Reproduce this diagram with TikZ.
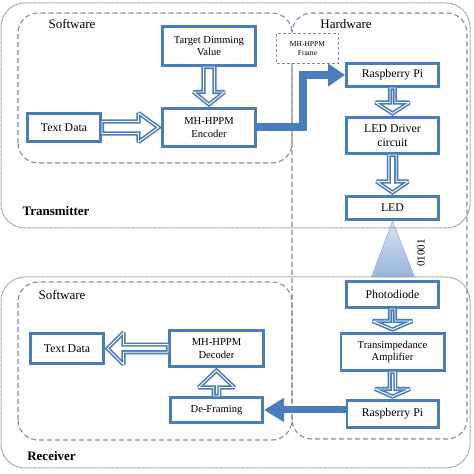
\documentclass[tikz,border=0pt]{standalone}
\usepackage{fontspec}
\setmainfont{Liberation Serif}
\usetikzlibrary{arrows.meta,positioning,calc}
\definecolor{boxblue}{HTML}{4A7EBB}
\definecolor{zonegray}{HTML}{8B88A6}
\definecolor{outergray}{HTML}{9A9A9A}
\definecolor{beamtop}{HTML}{D6E2F2}
\definecolor{beambot}{HTML}{9AB5DB}
\tikzset{
  blockbox/.style={
    rectangle, draw=boxblue, line width=2.8pt, fill=white,
    align=center, inner sep=1pt, font=\fontsize{11.8}{13.5}\selectfont
  },
  smallbox/.style={blockbox, font=\fontsize{10.6}{12.5}\selectfont},
  zone/.style={draw=zonegray, line width=1.1pt, dash pattern=on 5pt off 3pt, rounded corners=20pt},
  unitframe/.style={draw=outergray, line width=1pt, dash pattern=on 0.8pt off 0.5pt, rounded corners=24pt},
  zonelabel/.style={font=\fontsize{13}{15}\selectfont},
  sidelabel/.style={font=\fontsize{13}{15}\selectfont\bfseries},
  thickarrow/.style={draw=boxblue, line width=8pt, -{Triangle[length=17pt,width=22pt]}},
  arr shaft/.store in=\arrshaft, arr head/.store in=\arrhead, arr len/.store in=\arrlen,
  arr shaft=4pt, arr head=16pt, arr len=12pt,
  hollowarrow/.style={
    draw=boxblue, fill=white, line width=1.6pt, double=white, double distance=0.9pt,
    miter limit=2,
    to path={
      ($(\tikztotarget)!2.5pt!(\tikztostart)$) coordinate (tp)
      ($(tp)!\arrlen!(\tikztostart)$) coordinate (hb)
      ($(\tikztostart)!\arrshaft!90:(tp)$) -- ($(hb)!\arrshaft!90:(tp)$) -- ($(hb)!\arrhead!90:(tp)$) -- (tp)
      -- ($(hb)!\arrhead!-90:(tp)$) -- ($(hb)!\arrshaft!-90:(tp)$) -- ($(\tikztostart)!\arrshaft!-90:(tp)$) -- cycle
    }
  },
}
\begin{document}
\begin{tikzpicture}[x=1pt, y=1pt]
  \fill[white] (0,0) rectangle (474,474);
  \useasboundingbox (0,0) rectangle (474,474);

  \node[smallbox, minimum width=93.2pt, minimum height=39.2pt] (tdv) at (209,428) {Target Dimming\\Value};
  \node[smallbox, minimum width=93.2pt, minimum height=38.2pt, below=40pt of tdv] (enc) {MH-HPPM\\Encoder};
  \node[blockbox, minimum width=73.2pt, minimum height=28.2pt, left=59pt of enc] (tdtx) {Text Data};

  \node[blockbox, minimum width=92.2pt, minimum height=23.2pt] (rpitx) at (392.5,399) {Raspberry Pi};
  \node[blockbox, minimum width=92.2pt, minimum height=36.2pt, below=28pt of rpitx] (drv) {LED Driver\\circuit};
  \node[blockbox, minimum width=92.2pt, minimum height=23.2pt, below=40pt of drv] (led) {LED};

  \node[blockbox, minimum width=92.2pt, minimum height=26.2pt] (pd) at (392.5,179.5) {Photodiode};
  \node[smallbox, minimum width=103.2pt, minimum height=37.2pt, below=23pt of pd] (tia) {Transimpedance\\Amplifier};
  \node[blockbox, minimum width=91.2pt, minimum height=27.2pt, below=27pt of tia] (rpirx) {Raspberry Pi};

  \node[smallbox, minimum width=94.2pt, minimum height=36.2pt] (dec) at (216.5,125.5) {MH-HPPM\\Decoder};
  \node[smallbox, minimum width=92.2pt, minimum height=25.2pt, below=28pt of dec] (defr) {De-Framing};
  \node[blockbox, minimum width=73.2pt, minimum height=30.2pt, left=63pt of dec] (tdrx) {Text Data};

  \shadedraw[top color=beamtop, bottom color=beambot, draw=beambot!80!boxblue, line width=0.5pt]
    (led.south) -- ([shift={(-21pt,3pt)}]pd.north) -- ([shift={(22pt,3pt)}]pd.north) -- cycle;
  \node[rotate=90, font=\fontsize{11}{13}\selectfont] (bits) at (421,221) {01001};

  \draw[unitframe] (1,246) rectangle (470,471);
  \draw[unitframe] (1,6) rectangle (470,197);
  \draw[zone] (292,35) rectangle (467,461);
  \draw[zone] (18,311) rectangle (292,461);
  \draw[zone] (18,34) rectangle (292,192);

  \node[zonelabel] (swtx) at (72,450) {Software};
  \node[zonelabel] (hwlabel) at (346,450) {Hardware};
  \node[sidelabel] (txlabel) at (56,263) {Transmitter};
  \node[zonelabel] (swrx) at (62,179) {Software};
  \node[sidelabel] (rxlabel) at (51.5,18) {Receiver};

  \node[draw=zonegray, line width=0.9pt, dash pattern=on 3pt off 2pt, fill=white, minimum width=62pt,
    minimum height=30pt, inner sep=1pt, align=center, font=\fontsize{7.5}{8.5}\selectfont] (frame) at (307.5,425.5) {MH-HPPM\\Frame};

  \draw[hollowarrow, arr shaft=6pt, arr head=14.5pt, arr len=20pt] (tdtx.east) to (enc.west);
  \draw[hollowarrow, arr shaft=5.5pt, arr head=15.5pt, arr len=12.5pt] (tdv.south) to (enc.north);
  \draw[hollowarrow, arr shaft=2.5pt, arr head=17pt, arr len=11pt] (rpitx.south) to (drv.north);
  \draw[hollowarrow, arr shaft=3.7pt, arr head=16pt, arr len=11pt] (drv.south) to (led.north);
  \draw[hollowarrow, arr shaft=2.5pt, arr head=20pt, arr len=8.5pt] (pd.south) to (tia.north);
  \draw[hollowarrow, arr shaft=2.8pt, arr head=17.5pt, arr len=7.5pt] (tia.south) to (rpirx.north);
  \draw[hollowarrow, arr shaft=3.8pt, arr head=16pt, arr len=16pt] (dec.west) to (tdrx.east);
  \draw[hollowarrow, arr shaft=2.8pt, arr head=18pt, arr len=17pt] (defr.north) to (dec.south);

  \draw[thickarrow] (enc.east) -- ++(46pt,0) |- (rpitx.west);
  \draw[thickarrow, line width=7pt, -{Triangle[length=20pt,width=23pt]}] (rpirx.west |- defr.east) -- (defr.east);
\end{tikzpicture}
\end{document}
